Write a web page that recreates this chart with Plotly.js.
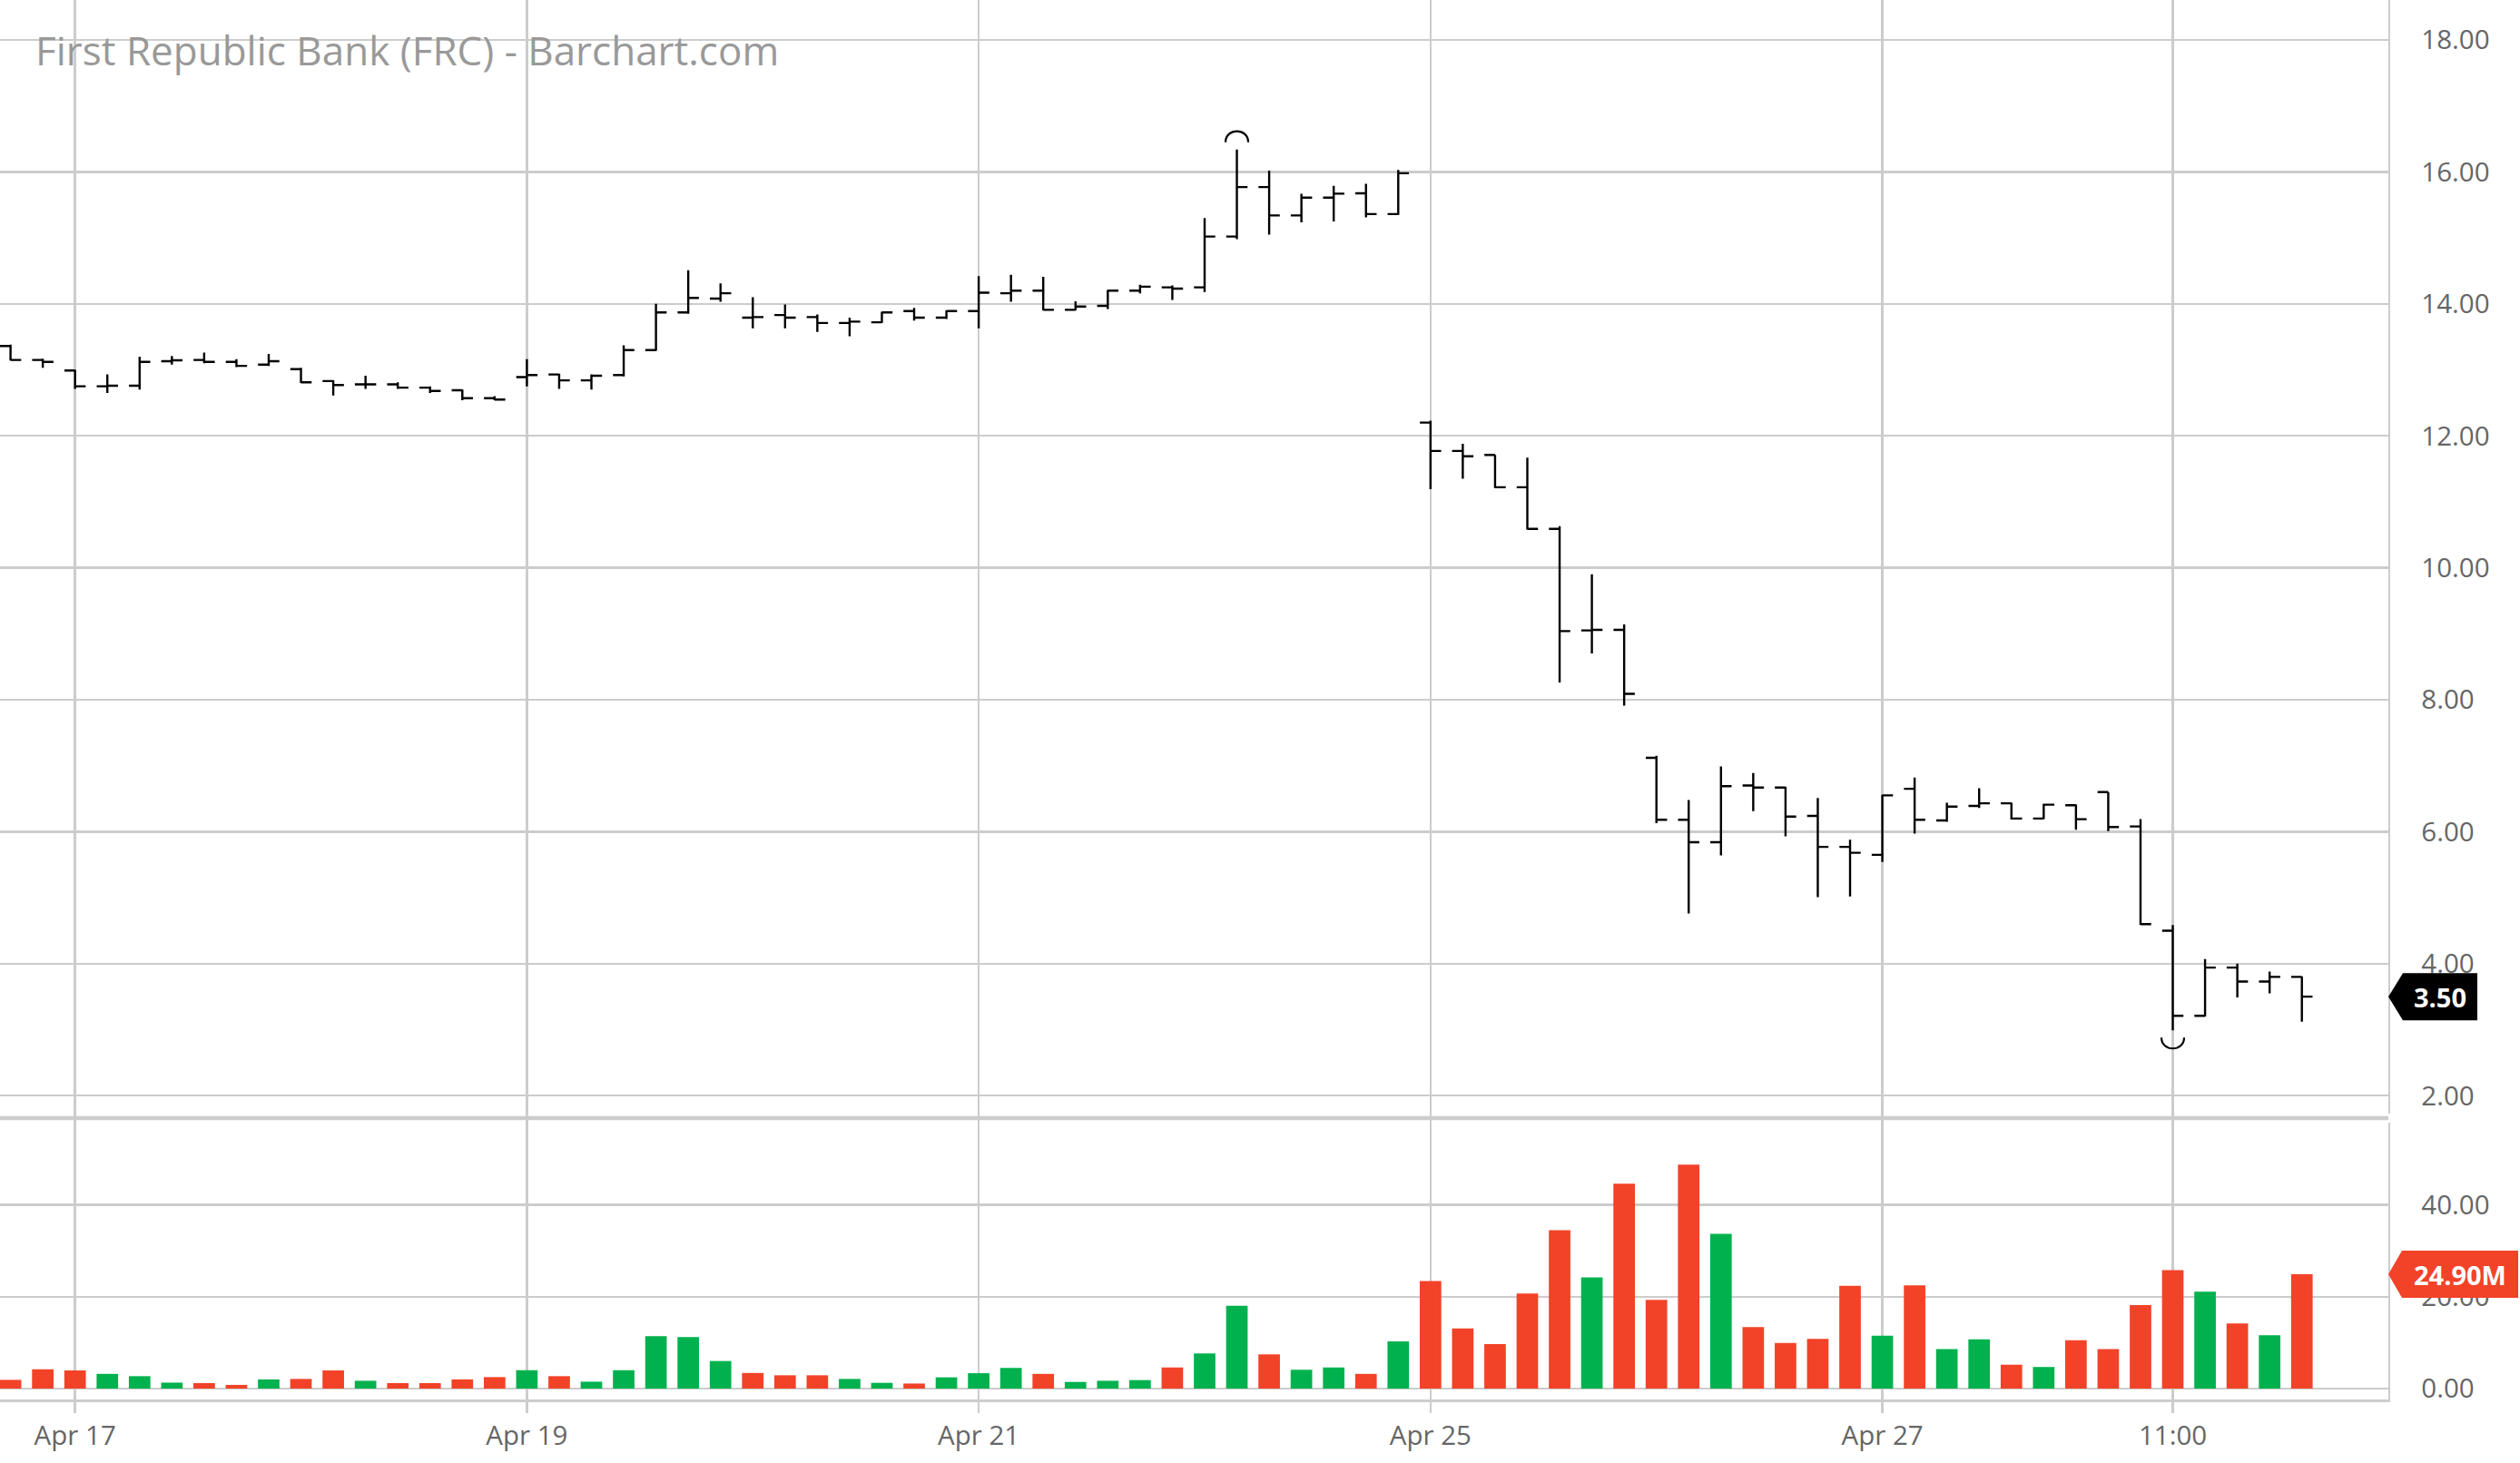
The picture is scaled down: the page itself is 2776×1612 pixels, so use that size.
<!DOCTYPE html>
<html>
<head>
<meta charset="utf-8">
<script src="https://cdn.plot.ly/plotly-3.0.1.min.js"></script>
<style>html,body{margin:0;padding:0;background:#fff;overflow:hidden}#chart{width:2776px;height:1612px}</style>
</head>
<body>
<div id="chart"></div>
<script>
const chartTitle = "First Republic Bank (FRC) - Barchart.com";
const xTickPositions = [2, 16, 30, 44, 58, 67];
const xTickLabels = ["Apr 17", "Apr 19", "Apr 21", "Apr 25", "Apr 27", "11:00"];
const priceTicks = [2, 4, 6, 8, 10, 12, 14, 16, 18];
const volumeTicks = [0, 20, 40];

const opens = [13.36,13.15,12.99,12.75,12.76,13.13,13.15,13.12,13.08,13.01,12.83,12.78,12.78,12.73,12.69,12.57,12.89,12.93,12.84,12.92,
  13.30,13.87,14.08,13.79,13.83,13.80,13.71,13.72,13.89,13.79,13.89,14.16,14.20,13.91,13.97,14.20,14.25,14.25,15.02,15.77,
  15.34,15.61,15.675,15.36,12.20,11.77,11.71,11.22,10.59,9.05,9.06,7.12,6.18,5.84,6.70,6.67,6.24,5.77,5.65,6.65,
  6.17,6.39,6.43,6.20,6.40,6.60,6.08,4.50,3.21,3.94,3.73,3.80];
const highs = [13.38,13.17,13.00,12.93,13.20,13.21,13.26,13.16,13.24,13.03,12.84,12.91,12.81,12.75,12.70,12.60,13.16,12.94,12.93,13.37,
  14.00,14.51,14.31,14.10,13.99,13.84,13.79,13.88,13.94,13.90,14.42,14.44,14.41,14.04,14.21,14.29,14.28,15.30,16.34,16.02,
  15.67,15.79,15.82,16.03,12.23,11.88,11.71,11.67,10.63,9.90,9.14,7.15,6.48,6.99,6.89,6.68,6.51,5.88,6.56,6.82,
  6.44,6.66,6.44,6.42,6.41,6.60,6.19,4.585,4.07,4.00,3.88,3.805];
const lows = [13.14,13.03,12.71,12.65,12.70,13.08,13.10,13.04,13.06,12.80,12.61,12.71,12.71,12.65,12.54,12.54,12.75,12.71,12.70,12.90,
  13.29,13.85,14.03,13.63,13.63,13.575,13.51,13.71,13.745,13.77,13.63,14.03,13.90,13.90,13.92,14.16,14.06,14.18,14.98,15.05,
  15.235,15.25,15.31,15.35,11.19,11.35,11.21,10.58,8.26,8.70,7.91,6.13,4.76,5.64,6.31,5.93,5.01,5.02,5.54,5.97,
  6.15,6.36,6.185,6.19,6.03,6.01,4.59,2.99,3.20,3.49,3.55,3.12];
const closes = [13.15,13.12,12.75,12.76,13.12,13.145,13.12,13.06,13.13,12.81,12.77,12.78,12.73,12.68,12.57,12.55,12.92,12.84,12.91,13.30,
  13.87,14.09,14.16,13.80,13.79,13.71,13.73,13.87,13.79,13.89,14.17,14.20,13.91,13.96,14.20,14.26,14.23,15.02,15.77,15.34,
  15.61,15.67,15.36,15.98,11.77,11.69,11.22,10.59,9.04,9.06,8.09,6.18,5.84,6.69,6.67,6.23,5.77,5.68,6.55,6.18,
  6.38,6.43,6.20,6.41,6.19,6.07,4.60,3.21,3.94,3.73,3.80,3.50];
const volumes = [1.9,4.2,3.95,3.2,2.7,1.3,1.2,0.8,2.0,2.1,3.95,1.7,1.2,1.2,2.0,2.5,4.0,2.7,1.5,4.0,
  11.4,11.2,6.0,3.4,2.9,2.9,2.1,1.25,1.1,2.45,3.35,4.5,3.2,1.45,1.7,1.85,4.6,7.65,18.05,7.45,
  4.1,4.6,3.2,10.3,23.4,13.1,9.7,20.7,34.5,24.2,44.6,19.3,48.75,33.7,13.4,9.95,10.8,22.4,11.5,22.5,
  8.6,10.7,5.2,4.7,10.5,8.6,18.2,25.8,21.1,14.2,11.6,24.9];
const volumeUp = [0,0,0,1,1,1,0,0,1,0,0,1,0,0,0,0,1,0,1,1,
  1,1,1,0,0,0,1,1,0,1,1,1,0,1,1,1,0,1,1,0,
  1,1,0,1,0,0,0,0,0,1,0,0,0,1,0,0,0,0,1,0,
  1,1,0,1,0,0,0,0,1,0,1,0];

const RED = "#f24228", GREEN = "#00b14d", GRID = "#cccccc", TEXT = "#666666";
const barIndex = opens.map((_, i) => i);
const lastClose = closes[closes.length - 1];
const lastVolume = volumes[volumes.length - 1];
const peak = Math.max(...highs), trough = Math.min(...lows);
const tickFont = {family: "Open Sans", size: 29.5, color: TEXT};

const traces = [
  {type: "ohlc", x: barIndex, open: opens, high: highs, low: lows, close: closes,
   xaxis: "x", yaxis: "y", tickwidth: 0.33, hoverinfo: "skip", showlegend: false,
   increasing: {line: {color: "#000", width: 2.4}}, decreasing: {line: {color: "#000", width: 2.4}}},
  {type: "bar", x: barIndex, y: volumes, xaxis: "x", yaxis: "y2", width: 0.667,
   marker: {color: volumeUp.map(u => u ? GREEN : RED), line: {width: 0}}, hoverinfo: "skip", showlegend: false}
];

const plotH = 1542, splitY = 1232;
const split = (plotH - splitY) / plotH;

const layout = {
  width: 2776, height: 1612, paper_bgcolor: "#fff", plot_bgcolor: "#fff", showlegend: false,
  margin: {l: 0, r: 145, t: 0, b: 70, pad: 0},
  font: {family: "Open Sans"},
  title: {text: chartTitle, x: 39 / 2776, xanchor: "left", y: 1 - 57 / 1612, yanchor: "middle",
          font: {family: "Open Sans", size: 44, color: "#999999"}},
  xaxis: {type: "linear", range: [-0.326, 73.68], anchor: "y2", domain: [0, 1],
          tickmode: "array", tickvals: xTickPositions, ticktext: xTickLabels, tickfont: tickFont,
          showgrid: true, gridcolor: GRID, gridwidth: 2.4, zeroline: false,
          showline: true, linecolor: GRID, linewidth: 3,
          ticks: "outside", ticklen: 12, tickwidth: 2.4, tickcolor: GRID,
          rangeslider: {visible: false}, fixedrange: true},
  yaxis: {domain: [split, 1], range: [1.659, 18.605], side: "right", anchor: "x",
          tickmode: "array", tickvals: priceTicks, tickformat: ".2f", tickfont: tickFont,
          showgrid: true, gridcolor: GRID, gridwidth: 2.4, zeroline: false,
          showline: true, linecolor: GRID, linewidth: 2.4, ticks: "", ticklabelstandoff: 28, fixedrange: true},
  yaxis2: {domain: [0, split], range: [-2.37, 58.89], side: "right", anchor: "x",
          tickmode: "array", tickvals: volumeTicks, tickformat: ".2f", ticksuffix: "M", tickfont: tickFont,
          showgrid: true, gridcolor: GRID, gridwidth: 2.4, zeroline: false,
          showline: true, linecolor: GRID, linewidth: 2.4, ticks: "", ticklabelstandoff: 28, fixedrange: true},
  shapes: [
    {type: "rect", xref: "paper", yref: "paper", x0: 0.9995, x1: 1.002, y0: (plotH - 1237) / plotH, y1: (plotH - 1227) / plotH,
     fillcolor: "#fff", line: {width: 0}},
    {type: "line", xref: "paper", yref: "paper", x0: 0, x1: 1, y0: split, y1: split, line: {color: GRID, width: 4.5}},
    {type: "path", xref: "x", yref: "y", xsizemode: "pixel", ysizemode: "pixel",
     xanchor: highs.indexOf(peak), yanchor: peak, path: "M-12.5,8 C-12.5,24 12.5,24 12.5,8", line: {color: "#000", width: 2.2}},
    {type: "path", xref: "x", yref: "y", xsizemode: "pixel", ysizemode: "pixel",
     xanchor: lows.indexOf(trough), yanchor: trough, path: "M-12.5,-8 C-12.5,-24 12.5,-24 12.5,-8", line: {color: "#000", width: 2.2}},
    {type: "path", xref: "paper", yref: "y", xsizemode: "pixel", ysizemode: "pixel", xanchor: 1, yanchor: lastClose,
     path: "M0,0 L16,26 L98,26 L98,-26 L16,-26 Z", fillcolor: "#000", line: {width: 0}},
    {type: "path", xref: "paper", yref: "y2", xsizemode: "pixel", ysizemode: "pixel", xanchor: 1, yanchor: lastVolume,
     path: "M0,0 L15,26 L143,26 L143,-26 L15,-26 Z", fillcolor: RED, line: {width: 0}}
  ],
  annotations: [
    {xref: "paper", yref: "y", x: 1, xshift: 56.5, xanchor: "center", yanchor: "middle", y: lastClose, showarrow: false,
     text: lastClose.toFixed(2), font: {family: "Open Sans", size: 29, color: "#fff", weight: 700}},
    {xref: "paper", yref: "y2", x: 1, xshift: 79, xanchor: "center", yanchor: "middle", y: lastVolume, showarrow: false,
     text: lastVolume.toFixed(2) + "M", font: {family: "Open Sans", size: 29, color: "#fff", weight: 700}}
  ]
};

Plotly.newPlot("chart", traces, layout, {displayModeBar: false, staticPlot: true});
</script>
</body>
</html>
